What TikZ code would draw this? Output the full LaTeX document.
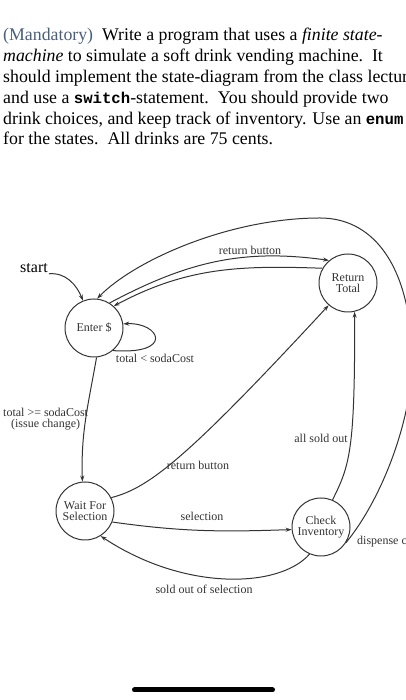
\documentclass[tikz,border=0pt]{standalone}
\usepackage{fontspec}
\setmainfont{Liberation Serif}
\setmonofont[Scale=0.88]{Liberation Mono}
\usetikzlibrary{arrows.meta}
\definecolor{ink}{rgb}{0.2,0.2,0.2}
\definecolor{slate}{rgb}{0.29,0.37,0.5}

\tikzset{
  state/.style={draw=ink, line width=1pt, circle, minimum size=58pt, inner sep=0pt,
    align=center, font=\fontsize{12}{11}\selectfont, text=ink},
  lbl/.style={font=\fontsize{12}{11}\selectfont, text=ink, inner sep=1pt},
  edge/.style={draw=ink, line width=1pt, -{Stealth[length=6pt,width=4pt]}}
}

\begin{document}
\begin{tikzpicture}[x=1pt, y=1pt]
\useasboundingbox (0,0) rectangle (406,700);
\clip (0,0) rectangle (406,700);

% the task text
\node[anchor=base west, inner sep=0pt, align=left,
      font=\fontsize{17.8}{20.8}\selectfont] (task) at (3,555)
  {\textcolor{slate}{(Mandatory)}\hspace{0.5em}Write a program that uses a \textit{finite state-}\\
   \textit{machine} to simulate a soft drink vending machine.\hspace{0.5em}It\\
   should implement the state-diagram from the class lecture\\
   and use a \textbf{\texttt{switch}}-statement.\hspace{0.5em}You should provide two\\
   drink choices, and keep track of inventory. Use an \textbf{\texttt{enum}}\\
   for the states.\hspace{0.5em}All drinks are 75 cents.};

% states
\node[state] (enter) at (94,372) {Enter \$};
\node[state] (ret)   at (348,417) {Return\\Total};
\node[state] (wait)  at (85,189) {Wait For\\Selection};
\node[state] (check) at (321,173) {Check\\Inventory};

\node[font=\fontsize{16}{16}\selectfont, inner sep=1pt] (start) at (34,432) {start};

% transitions
\draw[edge] (start.south east) to[out=5, in=112] (enter.112);
\draw[edge] (enter.-50) .. controls (175,345) and (160,378) .. (enter.8);
\draw[edge] (enter.-85) to[out=-100, in=92] (wait.95);
\draw[edge] (enter.58) to[out=28, in=172] (ret.130);
\draw[edge] (ret.150) to[out=178, in=28] (enter.48);
\draw[edge] (check.-32) .. controls (385,205) and (415,290) .. (412,350)
  .. controls (408,440) and (370,482) .. (320,482)
  .. controls (230,482) and (135,440) .. (enter.84);
\draw[edge] (wait.27) .. controls (150,212) and (190,245) .. (ret.229);
\draw[edge] (wait.-22) to[out=-8, in=182] (check.185);
\draw[edge] (check.-113) .. controls (280,112) and (185,108) .. (wait.-58);
\draw[edge] (check.67) .. controls (350,235) and (355,250) .. (ret.-77);

% labels
\node[lbl] (lloop)   at (155,342) {total < sodaCost};
\node[lbl, align=center, anchor=west] (lpay) at (2,281) {total >= sodaCost\\(issue change)};
\node[lbl] (lret)    at (250,450) {return button};
\node[lbl] (lret2)   at (198,235) {return button};
\node[lbl] (lsel)    at (202,184) {selection};
\node[lbl] (lsold)   at (204,111) {sold out of selection};
\node[lbl] (lall)    at (321,262) {all sold out};
\node[lbl, anchor=west] (ldisp) at (356,158) {dispense c};

% home bar
\draw[line width=5pt, line cap=round] (134.5,10) -- (272.5,10);
\end{tikzpicture}
\end{document}
